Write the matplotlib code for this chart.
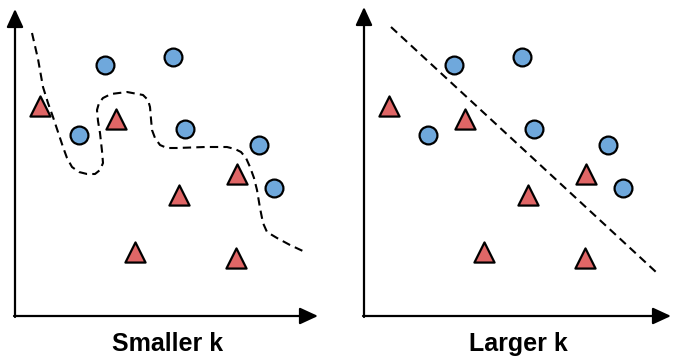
import matplotlib
matplotlib.use('Agg')
import matplotlib.pyplot as plt

# --- Data (panel-relative pixel units, origin at the axis corner, y up) ---
circle_x = [90, 158, 64, 170, 244, 259]
circle_y = [251, 259, 181, 187, 171, 128]
triangle_x = [25, 101, 222, 164, 120, 221]
triangle_y = [209, 196, 141, 120, 63, 57]

# wiggly boundary for small k
wiggle_x = [17, 23, 28, 33, 38, 43, 48, 52, 57, 64, 72, 80, 85, 88, 87, 85, 83, 82,
            84, 88, 96, 112, 128, 133, 135, 136, 137, 140, 145, 152, 162, 190, 212,
            220, 226, 231, 235, 239, 242, 245, 248, 252, 262, 275, 290]
wiggle_y = [283, 257, 229, 213, 199, 184, 169, 158, 149, 144, 142, 142, 146, 153, 165,
            183, 195, 206, 213, 218, 222, 224, 221, 216, 209, 197, 186, 178, 171, 168,
            168, 169, 169, 167, 164, 158, 149, 138, 126, 108, 93, 84, 78, 71, 64]

# straight boundary for large k
line_x = [27, 292]
line_y = [289, 44]

titles = ["Smaller k", "Larger k"]
origins = [(15, 46), (364, 46)]
axis_ends = [(303, 307), (307, 309)]

BLUE = '#6fa8dc'
RED = '#e06666'

fig = plt.figure(figsize=(6.76, 3.62), dpi=100)
ax = fig.add_axes([0, 0, 1, 1])
ax.set_xlim(0, 676)
ax.set_ylim(0, 362)
ax.axis('off')

for i, (ox, oy) in enumerate(origins):
    xlen, ylen = axis_ends[i]
    arrow = dict(arrowstyle='-|>,head_length=0.65,head_width=0.3', mutation_scale=17,
                 lw=1.6, color='black', shrinkA=0, shrinkB=0)
    ax.annotate('', xy=(ox, oy + ylen), xytext=(ox, oy - 1), arrowprops=arrow)
    ax.annotate('', xy=(ox + xlen, oy), xytext=(ox - 1, oy), arrowprops=arrow)

    if i == 0:
        bx = [ox + v for v in wiggle_x]
        by = [oy + v for v in wiggle_y]
    else:
        bx = [ox + v for v in line_x]
        by = [oy + v for v in line_y]
    ax.plot(bx, by, color='black', lw=1.5, dashes=(4, 2.5), solid_capstyle='butt', zorder=2)

    ax.scatter([ox + v for v in circle_x], [oy + v for v in circle_y], s=165, marker='o',
               facecolor=BLUE, edgecolor='black', linewidths=1.6, zorder=3)
    ax.scatter([ox + v for v in triangle_x], [oy + 1 + v for v in triangle_y], s=210, marker='^',
               facecolor=RED, edgecolor='black', linewidths=1.6, zorder=3)

    ax.text(ox + xlen / 2 + 1, 11, titles[i], ha='center', va='baseline',
            fontsize=18, fontweight='bold', family=['Liberation Sans', 'DejaVu Sans'])

fig.savefig('out.png', dpi=100)
